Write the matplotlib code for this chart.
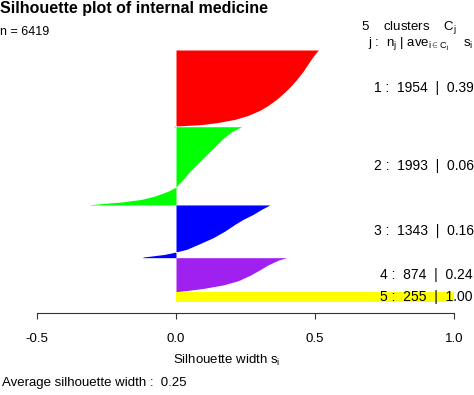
import matplotlib
matplotlib.use("Agg")
import matplotlib.pyplot as plt
import matplotlib.transforms as mtransforms
import numpy as np

plt.rcParams['font.family'] = ['Liberation Sans', 'DejaVu Sans']
plt.rcParams['mathtext.fontset'] = 'custom'
plt.rcParams['mathtext.rm'] = 'Liberation Sans'
plt.rcParams['mathtext.it'] = 'Liberation Sans:italic'
plt.rcParams['mathtext.bf'] = 'Liberation Sans:bold'

# cluster summary
cluster_ids = [1, 2, 3, 4, 5]
cluster_sizes = [1954, 1993, 1343, 874, 255]
cluster_avg = ["0.39", "0.06", "0.16", "0.24", "1.00"]
cluster_colors = ["#ff0000", "#00ff00", "#0000ff", "#a020f0", "#ffff00"]
n_total = 6419
overall_avg = "0.25"

# silhouette profiles
# (position inside the cluster, 0 = top .. 1 = bottom, and silhouette width there)
red_frac = [0, .066, .131, .197, .284, .371, .459, .546, .633, .721, .786, .852, .904, .948, .974, .991, 1.0]
red_sil = [.512, .497, .484, .472, .456, .437, .416, .392, .365, .332, .302, .260, .212, .146, .086, 0.0, -0.01]
green_frac = [0, .063, .148, .232, .316, .401, .485, .570, .654, .738, .772, .823, .886, .928, .962, .983, .996, 1.0]
green_sil = [.236, .200, .170, .146, .122, .098, .074, .050, .030, .008, 0.0, -.028, -.076, -.123, -.195, -.267, -.309, -.31]
blue_frac = [0, .082, .177, .272, .367, .494, .620, .747, .842, .892, .937, .968, .987, 1.0]
blue_sil = [.338, .308, .278, .242, .212, .176, .134, .080, .038, 0.0, -.040, -.087, -.118, -.12]
purple_frac = [0, .072, .206, .361, .515, .670, .794, .897, .959, .99, 1.0]
purple_sil = [.398, .368, .332, .300, .266, .224, .170, .098, .038, 0.0, 0.0]
yellow_frac = [0, 1.0]
yellow_sil = [1.0, 1.0]

prof_frac = [red_frac, green_frac, blue_frac, purple_frac, yellow_frac]
prof_sil = [red_sil, green_sil, blue_sil, purple_sil, yellow_sil]

fig = plt.figure(figsize=(4.74, 3.95), dpi=100)
ax = fig.add_axes([37 / 474, (395 - 302) / 395, 417 / 474, 252 / 395])

top = float(n_total)
mids = []
for k in range(len(cluster_ids)):
    fr = np.array(prof_frac[k])
    y = top - fr * cluster_sizes[k]
    ax.fill_betweenx(y, 0, prof_sil[k], color=cluster_colors[k], lw=0)
    mids.append(top - cluster_sizes[k] / 2)
    top -= cluster_sizes[k]

ax.set_xlim(-0.5, 1.0)
ax.set_ylim(0, n_total)
for s in ['top', 'right', 'left']:
    ax.spines[s].set_visible(False)
ax.spines['bottom'].set_position(('outward', 8))
ax.spines['bottom'].set_bounds(-0.5, 1.0)
ax.spines['bottom'].set_color('#333333')
ax.set_yticks([])
ax.set_xticks([-0.5, 0.0, 0.5, 1.0])
ax.set_xticklabels(["-0.5", "0.0", "0.5", "1.0"])
ax.tick_params(axis='x', length=4.3, width=0.8, pad=10, labelsize=9.5, color='#333333')
ax.set_xlabel(r"Silhouette width $\mathrm{s_i}$", fontsize=9.5)
ax.xaxis.set_label_coords(0.456, -0.20)

# cluster labels at right, R style adj=0.8 around x=1
labels = []
for k in range(len(cluster_ids)):
    txt = f"{cluster_ids[k]} :  {cluster_sizes[k]}  |  {cluster_avg[k]}"
    t = ax.text(1.0, mids[k], txt, ha='left', va='center', fontsize=10, clip_on=False)
    labels.append(t)
fig.canvas.draw()
for t in labels:
    w = t.get_window_extent().width
    t.set_transform(ax.transData + mtransforms.ScaledTranslation(-0.8 * w / fig.dpi, 0, fig.dpi_scale_trans))

fig.text(0 / 474, 1 - 9 / 395, "Silhouette plot of internal medicine", fontsize=11.5,
         fontweight='bold', ha='left', va='center')
fig.text(0 / 474, 1 - 32 / 395, f"n = {n_total}", fontsize=9, ha='left', va='center')
fig.text(361 / 474, 1 - 28 / 395, r"5    clusters    $\mathrm{C_j}$", fontsize=9.5, ha='left', va='center')
fig.text(368 / 474, 1 - 44 / 395, r"j :  $\mathrm{n_j}$ | $\mathrm{ave_{i\in C_j}}$    $\mathrm{s_i}$",
         fontsize=9.5, ha='left', va='center')
fig.text(2 / 474, 1 - 383 / 395, f"Average silhouette width :  {overall_avg}", fontsize=9.5,
         ha='left', va='center')

fig.savefig("out.png", dpi=100)
